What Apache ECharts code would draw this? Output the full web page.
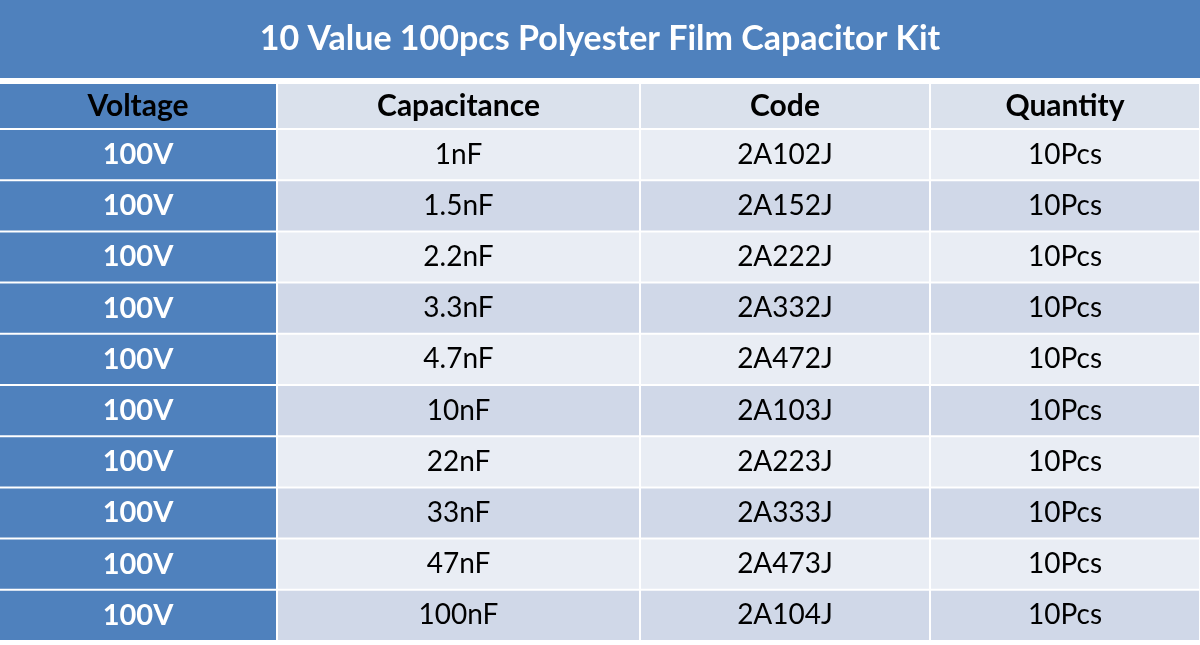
<!DOCTYPE html>
<html><head><meta charset="utf-8">
<script src="https://cdn.jsdelivr.net/npm/echarts@6/dist/echarts.min.js"></script>
<style>html,body{margin:0;padding:0;background:#fff}#main{width:1200px;height:645px}</style>
</head><body><div id="main"></div>
<script>
var titleText = '10 Value 100pcs Polyester Film Capacitor Kit';
var headers = ['Voltage', 'Capacitance', 'Code', 'Quantity'];
var voltages = ['100V','100V','100V','100V','100V','100V','100V','100V','100V','100V'];
var capacitances = ['1nF','1.5nF','2.2nF','3.3nF','4.7nF','10nF','22nF','33nF','47nF','100nF'];
var codes = ['2A102J','2A152J','2A222J','2A332J','2A472J','2A103J','2A223J','2A333J','2A473J','2A104J'];
var quantities = ['10Pcs','10Pcs','10Pcs','10Pcs','10Pcs','10Pcs','10Pcs','10Pcs','10Pcs','10Pcs'];

// layout (pixel-like units on value axes)
var colEdges = [0, 277, 640, 930, 1200];
var titleBand = [0, 78];
var headerBand = [84, 128];
var rowTop = 130, rowH = 51.2;

var cells = [];
cells.push({ value: [0, -2], label: titleText });
headers.forEach(function (h, c) { cells.push({ value: [c, -1], label: h }); });
var cols = [voltages, capacitances, codes, quantities];
for (var r = 0; r < voltages.length; r++) {
  for (var c = 0; c < 4; c++) cells.push({ value: [c, r], label: cols[c][r] });
}

var chart = echarts.init(document.getElementById('main'));
chart.setOption({
  animation: false,
  grid: { left: 0, right: 0, top: 0, bottom: 0 },
  xAxis: { type: 'value', min: 0, max: 1200, show: false },
  yAxis: { type: 'value', min: 0, max: 645, inverse: true, show: false },
  series: [{
    type: 'custom',
    data: cells,
    renderItem: function (params, api) {
      var c = api.value(0), r = api.value(1);
      var d = cells[params.dataIndex];
      var x0, x1, y0, y1, fill, color = '#000', font;
      if (r === -2) {
        x0 = 0; x1 = 1200; y0 = titleBand[0]; y1 = titleBand[1];
        fill = '#4f81bd'; color = '#fff'; font = 'bold 34px Lato, sans-serif';
      } else {
        x0 = colEdges[c] + (c > 0 ? 1 : 0); x1 = colEdges[c + 1] - 1;
        if (r === -1) {
          y0 = headerBand[0]; y1 = headerBand[1];
          fill = c === 0 ? '#4f81bd' : '#dae1ec';
          font = 'bold 30px Lato, sans-serif';
        } else {
          y0 = rowTop + r * rowH; y1 = y0 + rowH - 2;
          if (c === 0) { fill = '#4f81bd'; color = '#fff'; font = 'bold 29px Lato, sans-serif'; }
          else { fill = r % 2 === 0 ? '#e9edf4' : '#d0d8e8'; font = '28px Lato, sans-serif'; }
        }
      }
      var p0 = api.coord([x0, y0]), p1 = api.coord([x1, y1]);
      return {
        type: 'rect',
        shape: { x: p0[0], y: p0[1], width: p1[0] - p0[0], height: p1[1] - p0[1] },
        style: { fill: fill },
        textContent: { style: { text: d.label, fill: color, font: font } },
        textConfig: { position: 'inside' }
      };
    }
  }]
});
</script></body></html>
